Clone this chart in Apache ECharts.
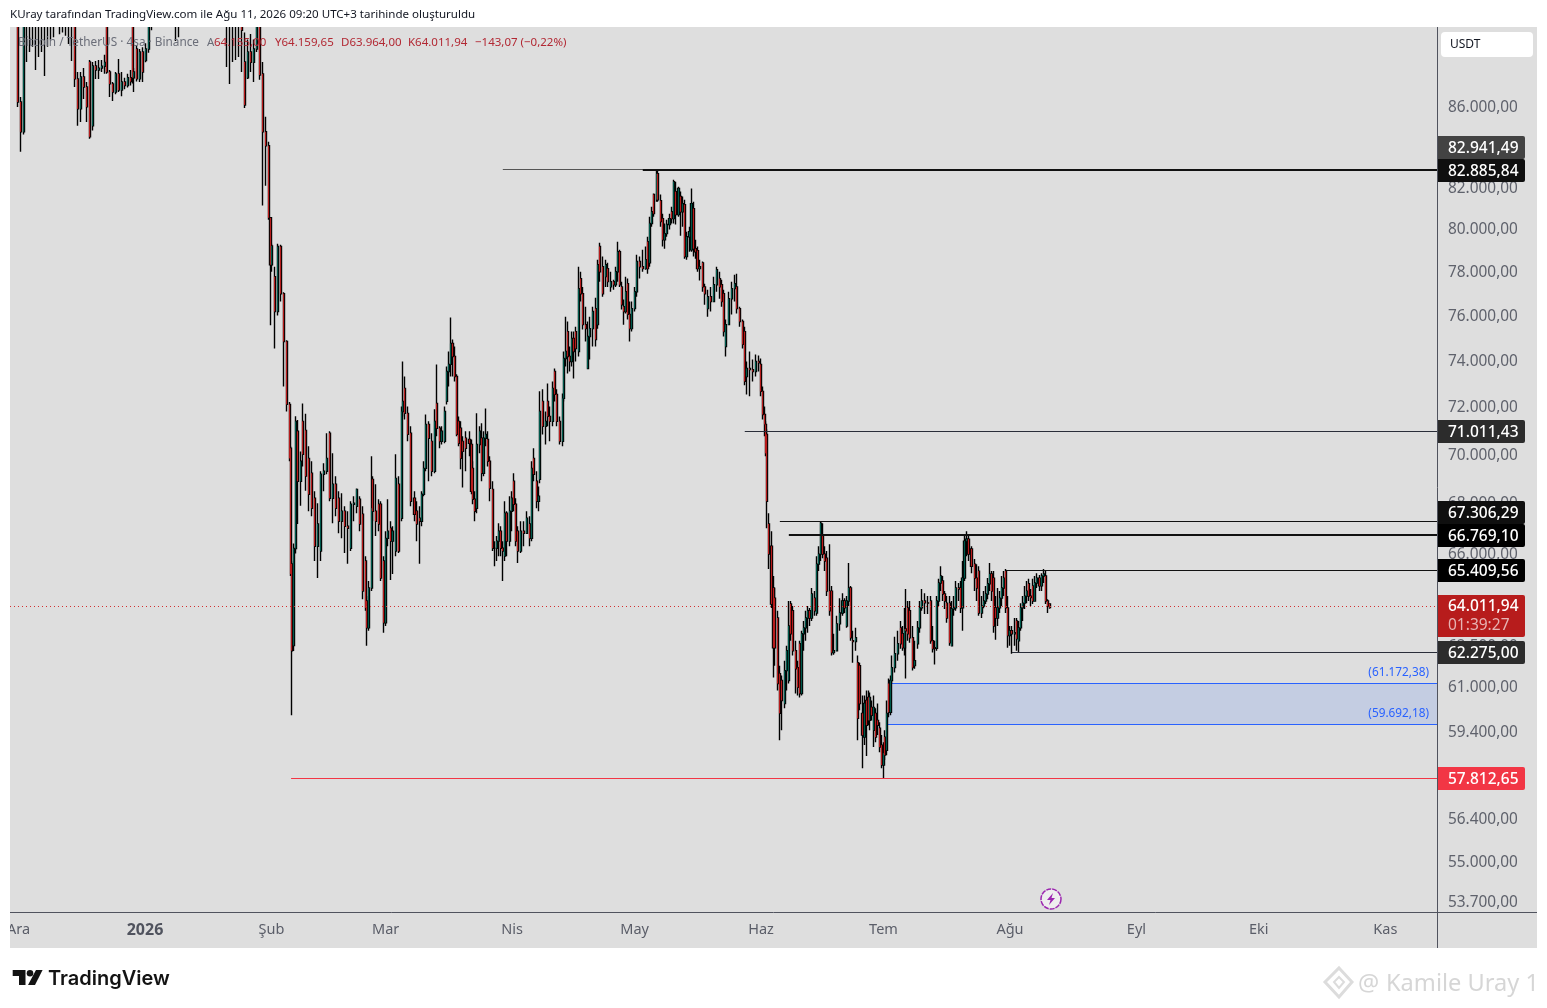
<!DOCTYPE html>
<html><head><meta charset="utf-8">
<script src="https://cdn.jsdelivr.net/npm/echarts@6/dist/echarts.min.js"></script>
<style>
html,body{margin:0;padding:0;background:#fff;width:1547px;height:1008px;overflow:hidden}
#panel{position:absolute;left:10px;top:27px;width:1527px;height:921px;background:#dedede}
#c{position:absolute;left:0;top:0;width:1547px;height:1008px}
</style></head><body><div id="panel"></div><div id="c"></div>
<script>
// Candles: [day since 1 Jan 2026, open, close, low, high]
const december=[[-31.1,92500,86250,86000,93000],[-30.4,86250,84740,83740,86500],[-29.7,84740,91000,84600,92000],[-28.9,91000,91500,88320,92500],[-28.2,91500,91000,88850,92500],[-27.5,91000,91800,89120,92800],[-26.7,91800,90500,87900,92500],[-26,90500,91200,88580,92300],[-25.2,91200,91800,88850,92800],[-24.5,91800,91000,87590,92500],[-23.8,91000,92000,89120,93000],[-23,92000,91500,89500,93000],[-22.3,91500,92000,89620,93200],[-21.6,92000,92500,90500,93500],[-20.8,92500,92000,89780,93500],[-20.1,92000,91500,89880,93000],[-19.4,91500,92000,89700,93200],[-18.6,92000,91500,89260,92800],[-17.9,91500,90800,88370,92500],[-17.2,90800,87440,87020,91500],[-16.4,87440,85900,85040,87800],[-15.7,85900,87540,85240,87800],[-15,87540,87020,86400,88000],[-14.2,87020,86000,85240,87280],[-13.5,88320,84490,84390,88420],[-12.7,85040,88110,84800,88320],[-12,88110,87900,87440,88370],[-11.3,87900,88000,87440,88420],[-10.5,88000,88100,87800,88420],[-9.8,88100,88300,87700,88700],[-9.3,91500,87800,87700,92000],[-8.6,87800,87180,86500,87900],[-7.8,87180,86760,86300,87280],[-7.1,86760,87700,86650,87800],[-6.4,87700,86860,86760,88480],[-5.6,86860,87280,86550,87800],[-4.9,87280,87100,86900,87500],[-4.2,87100,87500,87000,87700],[-3.4,87500,87300,87100,87900],[-2.9,91500,87500,87200,92000],[-2.7,87500,87800,86760,88000],[-2,89000,87440,87300,89200],[-1.2,87440,88850,87280,89000],[-0.5,88850,87800,87280,89100]];
const january=[[0.2,88400,89000,88300,89300],[1,89000,90500,88800,91000],[1.7,90500,91500,90000,92000],[2.5,91500,92500,91000,93000],[3.2,92500,93000,91500,93500],[3.9,93000,92500,91800,94000],[4.7,92500,93500,92000,94000],[5.4,93500,94000,92500,94500],[6.1,94000,93000,92000,94500],[6.9,93000,92500,91000,93500],[7.6,92500,91800,89420,93000],[8.3,91800,92500,89620,93000],[9.1,92500,93000,91500,93800],[9.8,93000,93500,92000,94000],[10.5,93500,94000,92500,94800],[11.3,94000,95000,93000,95500],[12,95000,96000,94000,96500],[12.7,96000,96500,95000,97000],[13.5,96500,95500,94500,97000],[14.2,95500,96000,94500,96800],[15,96000,95000,94000,96500],[15.7,95000,94500,93500,95500],[16.4,94500,95000,93500,95500],[17.2,95000,94000,93000,95500],[17.9,94000,93000,92000,94500],[18.6,93000,92500,91500,93500],[19.4,92000,91000,90200,93000],[20.1,91000,91500,88060,92500],[20.8,91500,90500,87180,92000],[21.6,90500,91500,88320,92000],[22.3,91500,90800,88420,92300],[23,90800,91000,88580,92000],[23.8,91000,90000,87800,92000],[24.5,88320,86100,85950,89880],[25.2,87500,88850,87440,89500],[26,88850,88300,87800,89800],[26.7,88300,89000,87280,89500],[27.5,89000,91000,88850,92000],[28.2,91500,87640,87400,92000],[28.9,87700,84740,81120,88320],[29.7,84740,84040,82080,85500],[30.4,84040,80530,80440,84240]];
const february=[[30.8,80530,78320,75560,80530],[31.1,78320,79200,78000,79300],[31.9,77770,76180,74530,78230],[32.6,76180,79170,76000,79300],[33.3,79170,76990,76630,79260],[34.1,76990,74840,72870,77050],[34.8,74840,72100,71800,74900],[35.5,72100,69830,69710,72200],[35.8,70250,65210,65130,70330],[36,65600,62310,59970,65700],[36.5,62500,66200,62300,66400],[37,66200,71380,66000,71600],[37.5,70960,68890,67170,71440],[38.2,68890,69710,67900,70120],[38.7,71380,70000,69500,72140],[39.5,71000,69100,68500,71700],[40.2,69830,68360,67680,70330],[40.9,69220,67800,67480,69710],[41.7,68200,66290,65710,68480],[42.4,66290,67170,65050,68000],[43.1,66100,69180,65710,69300],[43.9,69180,69300,68480,69630],[44.6,69300,69830,69180,70880],[45.3,70880,68200,68080,70960],[46.1,68200,68770,67200,70040],[46.8,68770,67800,67480,69100],[47.5,68200,67280,66800,68480],[48.3,67280,67680,66600,68400],[49,67680,67080,66020,67880],[49.8,67080,67000,65600,67680],[50.5,66210,67960,66100,68080],[51.2,67960,68000,67280,68280],[52,67880,68560,67600,68600],[52.7,68160,67170,66880,68280],[53.4,67560,64550,64240,67880],[54.2,65710,63910,63800,65900],[54.4,64170,63160,62490,64360],[54.9,63160,64670,63050,64940],[55.6,64670,67800,64550,69920],[55.9,68970,67680,67280,69100],[56.6,67680,67280,66690,68770],[57.3,67960,67170,66880,68160],[57.8,67960,65050,64940,68080],[58.6,65710,63350,62980,65900]];
const march=[[59.1,63350,66600,63230,66880],[59.6,66600,66880,66290,68160],[60.3,67000,66490,64980,67280],[60.8,66490,66880,65210,67080],[61.5,66100,69010,65900,70000],[62.3,68770,66100,66020,69100],[63,67400,71800,67280,72010],[63.2,71800,72230,71590,73960],[63.7,72790,71720,71460,73300],[64.5,71720,70830,70540,72010],[65.2,70880,68080,67880,71170],[66,68200,67560,67280,68480],[66.7,67680,67170,66490,68080],[67.4,67400,67280,65600,67880],[67.9,67280,68360,67080,68480],[68.4,68360,69420,68280,69710],[68.9,69420,71250,69300,71670],[69.6,71250,70670,68890,71380],[70.3,70540,69300,69100,70880],[71.1,69300,71380,69220,71890],[71.6,72140,71090,70750,73830],[72.3,71090,70540,70250,71170],[72.8,70540,70960,70410,71170],[73.5,70540,71800,70460,72010],[74,72230,73520,72100,73740],[74.5,73520,73830,72870,74400],[75,73830,74750,73300,75910],[75.5,74750,74180,73300,74930],[76,74180,73300,73090,74620],[76.5,73300,70830,70750,73400],[77,71380,70460,70330,71590],[77.5,71090,69830,69380,71380],[78,70540,70120,68640,70750],[78.7,70670,70250,69300,70960],[79.5,70620,70460,69920,70960],[80,70410,68480,68360,70620],[80.4,69420,68160,67960,69710],[80.9,68160,67680,67280,68480],[81.4,67800,70410,67600,71720],[82.1,70410,70960,70040,71170],[82.6,70670,69220,68890,71300],[83.1,69220,70670,69100,70960],[83.6,70670,70830,70330,71930],[84.1,70620,69710,69500,70960],[84.6,69710,68600,68080,69920],[85.3,68560,66210,66100,68890],[85.8,66210,66210,65510,66490],[86.3,66210,66490,65710,66690],[86.8,66490,66880,65900,67200],[87.3,66880,66210,65900,67080],[87.7,66210,66100,64940,66490],[88.2,65900,67600,65710,68080],[88.7,67600,66490,65900,67680],[89.5,66490,67680,66290,68280]];
const april=[[90,67680,68200,66880,68480],[90.4,68890,67960,67680,69220],[90.9,67960,66490,66290,68200],[91.4,66880,66100,65630,67080],[92.2,66100,66880,66020,67280],[92.9,66880,66800,66290,67280],[93.6,66800,67400,66800,67680],[94.4,67170,66600,66290,67480],[94.9,66600,69420,66490,69710],[95.3,69830,69180,68890,70250],[96.1,68890,68080,67800,69300],[96.6,68080,68280,67680,68680],[96.8,68970,71800,68810,72660],[97.5,72230,71170,70830,72750],[98.3,71170,71380,70410,71800],[98.8,72230,71590,71170,73000],[99.3,71590,71380,70540,72010],[100,71380,72790,71170,73090],[100.5,73520,72530,72230,73650],[101,72530,71380,71170,72750],[101.7,71380,70540,70410,71590],[102.5,70540,72360,70330,72570],[102.7,72360,74090,72230,74400],[103.2,74090,74400,73740,75950],[103.7,75280,74180,73430,75730],[104.2,74180,73960,73520,74620],[104.6,73960,74970,73740,75280],[105.1,74970,74400,73220,75280],[105.6,75280,74530,73960,75500],[106.4,74400,77220,74180,78230],[106.9,77680,76990,76630,78000],[107.4,76990,75590,75370,77300],[108.1,75590,75410,74840,76400],[108.6,73650,75060,73650,75730],[109.1,75060,75410,74050,75950],[109.8,75410,76180,74620,76400],[110.5,76310,74930,74620,76810],[111,75590,78320,75410,78550],[111.5,79170,78000,77540,79350],[112.3,78230,76990,76850,78700],[113,77770,78320,77300,78550],[113.5,78140,77540,77300,78410],[114.2,77300,77540,77080,78000],[114.9,77540,77400,77170,77630],[115.4,77400,78000,77300,78230],[115.9,78000,78930,77540,79400],[116.4,78930,77400,77300,79020],[116.9,77300,76490,76270,77540],[117.4,76400,76180,75590,76720],[117.9,76180,77080,76090,77770],[118.4,77450,76050,75820,77680],[118.9,76050,75410,74840,76630],[119.4,75410,76310,75280,76630]];
const may=[[120.1,76310,77080,76180,77300],[120.6,77080,78470,76850,78790],[121.3,78470,78230,77680,78700],[122,78230,78140,78000,79020],[122.8,78140,78560,78090,79170],[123.3,79400,78140,77900,79630],[123.8,78410,80260,78230,80580],[124.3,80260,80820,80110,81060],[124.8,81650,80730,80580,81700],[125.5,81400,82660,81300,82790],[125.7,82660,81400,81300,82790],[126.5,81350,80350,80110,81650],[127,80490,79490,79170,80730],[127.5,79490,79780,79070,80260],[128,79780,80210,79630,80440],[128.5,80210,80490,79970,80730],[129.2,80820,80490,80260,81060],[129.7,80490,82270,80260,82370],[130.2,81790,80680,80210,82270],[130.7,80680,81940,80580,82030],[131.4,81550,80820,79680,81790],[131.9,80820,81210,80110,81550],[132.4,81160,78700,78600,81400],[132.9,78700,79630,78550,79870],[133.4,79630,79870,78930,80110],[133.9,79020,81210,78930,81940],[134.4,80970,79070,78700,81300],[134.9,79070,78930,78600,79490],[135.4,78980,78140,78000,79170],[136,78140,78230,77590,78550],[136.8,78410,77300,77080,78470],[137.3,77300,76990,76490,77450],[138,76310,76850,75950,77170],[138.7,76850,76630,76180,77300],[139.5,76630,77400,76630,77770],[140.2,77400,78090,77080,78230],[140.9,77680,77300,76760,78000],[141.4,77400,76630,76400,77630],[141.9,76990,75280,75060,77170],[142.4,74620,75590,74180,75820],[143.1,75590,76760,75590,77080],[143.9,76760,77220,76050,77540],[144.6,77220,77450,76630,77860],[145.1,77300,76310,76090,77900],[145.8,76310,75730,75500,76400],[146.6,75730,74710,74530,75820],[147.1,75280,73090,72920,75500],[147.6,73300,73650,72530,73960],[148.3,73650,73600,72450,74400],[149,73600,73520,73090,74050],[149.8,73520,73960,73300,74270],[150.5,73960,73900,73520,74220]];
const june=[[151,73830,72660,72450,74090],[151.5,72660,71670,71460,72870],[152,71670,71250,70750,72010],[152.2,71250,70040,69920,71380],[152.5,70830,68080,67000,71050],[153,67170,65980,65400,67600],[153.5,66290,64060,63910,66880],[154,64670,62420,61330,65130],[154.4,64280,62420,61760,64670],[155.2,63530,61110,60860,63800],[155.6,61470,60040,59090,61760],[156.1,61220,60500,59440,61400],[156.9,60390,61580,60220,61940],[157.4,61580,62310,60860,62490],[157.9,61220,63230,61110,64170],[158.3,64060,62940,62680,64170],[158.8,63800,62310,62130,63980],[159.6,62310,61650,60750,62680],[160,61690,60970,60680,61940],[160.5,62570,60750,60610,62680],[161,60750,62940,60680,63050],[161.5,62940,63160,62310,63420],[162,63160,63530,62680,63800],[162.5,63530,63800,62980,63980],[163,63800,63530,63230,63910],[163.5,63530,64440,63420,64670],[164.2,64280,63800,63610,64550],[164.7,63720,65590,63610,65900],[165.2,65590,65980,65320,66290],[165.7,65980,67200,65710,67280],[166.2,66690,65980,65820,67200],[166.7,65980,65710,65320,66290],[167.1,65820,64550,64360,66100],[167.9,64550,63800,63610,66370],[168.4,64550,62240,62130,64750],[168.9,62240,62310,62160,62940],[169.6,62310,63310,62310,63610],[170.3,63310,63720,63050,64280],[171,63720,64170,63610,64470],[171.5,64170,63910,63720,64280],[172,63230,64170,63160,64360],[172.5,64170,64670,63980,65630],[173,64670,62790,62680,64750],[173.5,62680,62650,61870,63050],[174.3,62650,62790,62310,63160],[174.8,61870,59860,59090,62130],[175.3,61760,60390,60150,61870],[175.8,60040,59270,58120,60680],[176.3,59200,60390,58920,60680],[176.8,60500,59620,58540,60860],[177.3,60610,59790,59620,60860],[177.7,59790,60610,59440,60790],[178.2,60250,59970,59790,60500],[178.7,59440,60250,58850,60680],[179.2,60040,59200,59020,60220],[179.7,59790,59620,59270,60390],[180.2,59510,58850,58670,59720]];
const july=[[180.6,58920,58230,58120,59270],[181.1,58230,58640,57780,59020],[181.4,59200,58570,58400,59440],[181.9,58740,60040,58570,60500],[182.4,61110,60080,59900,61290],[182.7,60080,61220,59970,61400],[183.1,61220,61690,61110,62130],[183.8,61690,62200,61510,62830],[184.6,62200,62570,61940,63050],[185.3,63160,62570,62380,63420],[185.8,62940,62420,62310,63230],[186.3,62420,63120,62130,63910],[186.5,63120,63050,61290,64630],[187,63910,62940,62680,64170],[187.5,63800,62790,62600,64170],[188.2,62790,61690,61580,63230],[188.7,61760,61940,61650,62680],[189.5,62570,63160,62380,63420],[189.9,63160,63910,62980,64170],[190.4,63910,64170,63800,64630],[191.2,64170,64100,63680,64470],[191.9,64100,64090,63680,64360],[192.6,64170,62680,62570,64360],[193.1,62680,62380,62240,63230],[193.6,62420,62400,61800,62680],[194.1,62400,64170,62310,64360],[194.6,64170,64860,63980,65020],[195.1,64860,65130,64550,65510],[195.6,64940,64440,64170,65130],[196.1,64440,64170,63870,64550],[196.6,64090,63530,63350,64360],[197.3,64090,62600,62490,64360],[197.8,62490,63870,62490,64170],[198.3,63870,63910,63610,64360],[198.8,63910,64670,63800,64940],[199.5,64670,64630,64170,64860],[200,64670,63910,63720,64940],[200.4,63910,65050,63050,65710],[200.9,65050,66490,64940,66690],[201.4,66490,66570,65900,66880],[201.9,66570,65980,65710,66760],[202.6,66180,65510,65240,66290],[203.4,65590,65050,64550,65790],[203.9,65050,64670,64170,65590],[204.4,65320,63720,63610,65510],[205.1,63720,63980,63530,64360],[205.6,63980,64170,63900,64550],[206.1,64170,64440,64060,64750],[206.6,64440,64830,64240,65050],[207.1,64830,65210,64550,65630],[207.6,65210,64550,64170,65320],[208.1,65050,63230,62980,65320],[208.6,63910,63530,62720,64360],[209.1,63530,63910,63230,64670],[209.6,63910,64280,63720,64550],[210.1,64280,64670,63980,65130],[210.5,64670,65050,64360,65320],[211,65320,63910,63720,65400],[211.5,63910,62870,62420,64360]];
const august=[[212,62870,63050,62490,63230],[212.5,63050,62940,62200,63230],[213.2,62940,62980,62490,63530],[213.7,63420,62750,62310,63530],[214.2,62680,63160,62240,63420],[214.7,63160,63910,63050,64090],[215.2,63910,64090,63420,64360],[215.7,64090,64360,63870,64750],[216.2,64360,64550,64090,64940],[216.7,64830,64360,64170,65020],[217.2,64360,64300,63980,64630],[217.6,64750,64170,64060,65020],[218.1,64170,64860,64170,65130],[218.6,64860,65050,64670,65240],[219.3,65050,64750,64550,65170],[219.8,64750,65130,64550,65240],[220.3,65130,65210,64860,65400],[220.8,65130,64170,64060,65320],[221.3,64170,63980,63720,64240],[221.8,64065,63922,63875,64070]];
// Read prices come from tick-label centres, which sit slightly above the true scale position.
const readingCalibration=1.0005;

const yTickValues=[86000,82000,80000,78000,76000,74000,72000,70000,68000,66000,62500,61000,59400,56400,55000,53700];
const monthDays=[-31,0,31,59,90,120,151,181,212,243,273,304];
const monthLabels=['Ara','2026','Şub','Mar','Nis','May','Haz','Tem','Ağu','Eyl','Eki','Kas'];

// Drawn price levels: start day, price, line colour, tag colour, line height, tag shift
const levelPrices=[82941.49,82885.84,71011.43,67306.29,66769.10,65409.56,62275.00,57812.65];
const levelStarts=[87.7,122,147,155.6,157.8,211,212.5,35.8];
const levelLineColors=['#555555','#111111','#2a2e39','#111111','#111111','#111111','#2a2e39','#f23645'];
const levelTagColors=['#434343','#0f0f0f','#2c2c2c','#0f0f0f','#000000','#000000','#2c2c2c','#f23645'];
const levelWidths=[1,2,1,1,2,1,1,1];
const levelTagShifts=[-22,0,0,-9,0,0,0,0];
const zonePrices=[61172.38,59692.18];
const zoneStart=182.1;
const lastPrice=64011.94;
const countdown='01:39:27';

const X_MIN=-33.09,X_MAX=316.67,Y_MIN=53399,Y_MAX=90215;
const FONT='"Noto Sans",sans-serif';
const fmt=v=>{const p=v.toFixed(2).split('.');return p[0].replace(/\B(?=(\d{3})+$)/g,'.')+','+p[1];};

const rows=[].concat(december,january,february,march,april,may,june,july,august).map(r=>{
  const [d,o,c,l,h]=r;const k=readingCalibration;
  return [d,o*k,c*k,Math.min(l,o,c)*k,Math.max(h,o,c)*k];
});
const wickData=rows;
const bodyData=rows.map(r=>[r[0],r[1],r[2],Math.min(r[1],r[2]),Math.max(r[1],r[2])]);

const levelData=levelPrices.map((p,i)=>[levelStarts[i],p,i]);
function renderLevels(params,api){
  const i=api.value(2),price=api.value(1);
  const a=api.coord([api.value(0),price]),b=api.coord([X_MAX,price]);
  const y=Math.round(b[1]);
  const ty=y+0.5+levelTagShifts[i];
  return {type:'group',children:[
    {type:'rect',shape:{x:a[0],y:levelWidths[i]>1?y-1:y,width:b[0]-a[0],height:levelWidths[i]},style:{fill:levelLineColors[i]}},
    {type:'rect',shape:{x:b[0]+1,y:ty-11.5,width:87,height:23,r:[0,2,2,0]},style:{fill:levelTagColors[i]}},
    {type:'text',style:{x:b[0]+11,y:ty+1,text:fmt(price),fill:'#fff',font:'500 15.5px '+FONT,textAlign:'left',textVerticalAlign:'middle'}}
  ]};
}
function renderZone(params,api){
  const a=api.coord([zoneStart,zonePrices[0]]),b=api.coord([X_MAX,zonePrices[1]]);
  const y1=Math.round(a[1]),y2=Math.round(b[1]);
  return {type:'group',children:[
    {type:'rect',shape:{x:a[0],y:y1,width:b[0]-a[0],height:y2-y1},style:{fill:'#c4cde2'}},
    {type:'rect',shape:{x:a[0],y:y1,width:b[0]-a[0],height:1},style:{fill:'#2962ff'}},
    {type:'rect',shape:{x:a[0],y:y2,width:b[0]-a[0],height:1},style:{fill:'#2962ff'}},
    {type:'text',style:{x:b[0]-8,y:y1-10,text:'('+fmt(zonePrices[0])+')',fill:'#2962ff',font:'11.8px '+FONT,textAlign:'right',textVerticalAlign:'middle'}},
    {type:'text',style:{x:b[0]-8,y:y2-10,text:'('+fmt(zonePrices[1])+')',fill:'#2962ff',font:'11.8px '+FONT,textAlign:'right',textVerticalAlign:'middle'}}
  ]};
}
function renderLast(params,api){
  const b=api.coord([X_MAX,lastPrice]);
  const y=Math.round(b[1])+0.5;
  return {type:'group',children:[
    {type:'rect',shape:{x:b[0]+1,y:y-11.5,width:87,height:42,r:[0,2,2,0]},style:{fill:'#b71c1c'}},
    {type:'text',style:{x:b[0]+11,y:y,text:fmt(lastPrice),fill:'#fff',font:'500 15.5px '+FONT,textAlign:'left',textVerticalAlign:'middle'}},
    {type:'text',style:{x:b[0]+11,y:y+19,text:countdown,fill:'#e6b3b3',font:'15.5px '+FONT,textAlign:'left',textVerticalAlign:'middle'}}
  ]};
}
const txt=(x,y,text,fill,size,extra)=>({type:'text',z:100,x,y,style:Object.assign({text,fill,font:size+'px '+FONT,textVerticalAlign:'middle'},extra||{})});

const chart=echarts.init(document.getElementById('c'),null,{width:1547,height:1008});
chart.setOption({
  animation:false,backgroundColor:'transparent',
  grid:{left:10,top:27,width:1427,height:885,show:false},
  xAxis:{type:'value',min:X_MIN,max:X_MAX,splitLine:{show:false},axisLine:{show:false},axisTick:{show:false},
    axisLabel:{customValues:monthDays,margin:10,color:'#5a5d68',fontSize:14.5,fontFamily:'"Noto Sans",sans-serif',hideOverlap:false,showMinLabel:true,showMaxLabel:true,
      formatter:v=>{const s=monthLabels[monthDays.indexOf(v)];return s==='2026'?'{b|2026}':s;},
      rich:{b:{fontWeight:'bold',fontSize:16,color:'#50535e',fontFamily:'"Noto Sans",sans-serif'}}}},
  yAxis:{type:'log',logBase:10,position:'right',min:Y_MIN,max:Y_MAX,splitLine:{show:false},axisLine:{show:false},axisTick:{show:false},minorTick:{show:false},
    axisLabel:{customValues:yTickValues,margin:11,color:'#5f626c',fontSize:15.4,fontFamily:'"Noto Sans",sans-serif',padding:[0,0,6,0],hideOverlap:false,showMinLabel:true,showMaxLabel:true,formatter:v=>fmt(v)}},
  tooltip:{show:false},
  series:[
    {type:'custom',name:'Zone',data:[[zoneStart,zonePrices[0]]],renderItem:renderZone,encode:{x:0,y:1},clip:false,z:1,silent:true},
    {type:'candlestick',name:'Wicks',data:wickData,encode:{x:0,y:[1,2,3,4]},barWidth:2,z:2,clip:true,silent:true,progressive:0,large:false,
      itemStyle:{color:'#000',color0:'#000',borderColor:'#000',borderColor0:'#000',borderWidth:1.4}},
    {type:'candlestick',name:'Bodies',data:bodyData,encode:{x:0,y:[1,2,3,4]},barWidth:1,z:3,clip:true,silent:true,progressive:0,large:false,
      itemStyle:{color:'#00594c',color0:'#b71c1c',borderColor:'#00594c',borderColor0:'#b71c1c',borderWidth:1.2},
      markLine:{silent:true,symbol:'none',animation:false,label:{show:false},lineStyle:{color:'#d32f2f',width:1,type:[1,3],opacity:1},data:[{yAxis:lastPrice}]}},
    {type:'custom',name:'Last',data:[[X_MAX,lastPrice]],renderItem:renderLast,encode:{x:0,y:1},clip:false,z:4,silent:true},
    {type:'custom',name:'Levels',data:levelData,renderItem:renderLevels,encode:{x:0,y:1},clip:false,z:5,silent:true}
  ],
  graphic:[
    {type:'rect',z:90,shape:{x:0,y:0,width:1547,height:27},style:{fill:'#fff'}},
    {type:'rect',z:90,shape:{x:0,y:27,width:10,height:921},style:{fill:'#fff'}},
    {type:'line',z:95,shape:{x1:1437.5,y1:27,x2:1437.5,y2:948},style:{stroke:'#50535e',lineWidth:1}},
    {type:'line',z:95,shape:{x1:10,y1:912.5,x2:1537,y2:912.5},style:{stroke:'#50535e',lineWidth:1}},
    {type:'rect',z:96,shape:{x:1441,y:32,width:92,height:25,r:4},style:{fill:'#fff'}},
    txt(1450,45,'USDT','#131722',12),
    txt(10,15,'KUray tarafından TradingView.com ile Ağu 11, 2026 09:20 UTC+3 tarihinde oluşturuldu','#131722',11.55),
    txt(18,42.5,'Bitcoin / TetherUS · 4sa · Binance','#6a6d78',11.8),
    txt(207,42.5,'A','#6a6d78',11.5),
    txt(214,42.5,'64.155,00','#b22833',11.5),
    txt(275,42.5,'Y64.159,65','#b22833',11.5),
    txt(341,42.5,'D63.964,00','#b22833',11.5),
    txt(408,42.5,'K64.011,94','#b22833',11.5),
    txt(475,42.5,'−143,07 (−0,22%)','#b22833',11.5),
    // lightning marker
    {type:'circle',z:97,shape:{cx:1051,cy:899,r:10},style:{fill:'#eeeeee',stroke:'#9c27b0',lineWidth:1.5,lineDash:[5,1]}},
    {type:'polygon',z:98,shape:{points:[[1053,893],[1047,900],[1050.5,900],[1049,905],[1055,898],[1051.5,898]]},style:{fill:'#9c27b0'}},
    // TradingView logo
    {type:'polygon',z:98,shape:{points:[[12.7,970],[25.5,970],[25.5,985],[19,985],[19,976],[12.7,976]]},style:{fill:'#131313'}},
    {type:'circle',z:98,shape:{cx:30,cy:973.3,r:3.3},style:{fill:'#131313'}},
    {type:'polygon',z:98,shape:{points:[[36,970],[42.6,970],[35,985],[28,985]]},style:{fill:'#131313'}},
    {type:'text',z:98,x:48,y:979,style:{text:'TradingView',fill:'#131313',font:'600 20px Inter,sans-serif',textVerticalAlign:'middle'}},
    // watermark
    {type:'polygon',z:98,shape:{points:[[1339,968],[1352,982],[1339,997],[1325,982]]},style:{fill:'none',stroke:'#dcdcdc',lineWidth:3}},
    {type:'polygon',z:98,shape:{points:[[1339,977],[1344,982],[1339,988],[1334,982]]},style:{fill:'none',stroke:'#dcdcdc',lineWidth:2}},
    txt(1358,984,'@','#d6d6d6',23.6),
    txt(1386,984,'Kamile Uray 1','#d6d6d6',23.6)
  ]
});
</script></body></html>
